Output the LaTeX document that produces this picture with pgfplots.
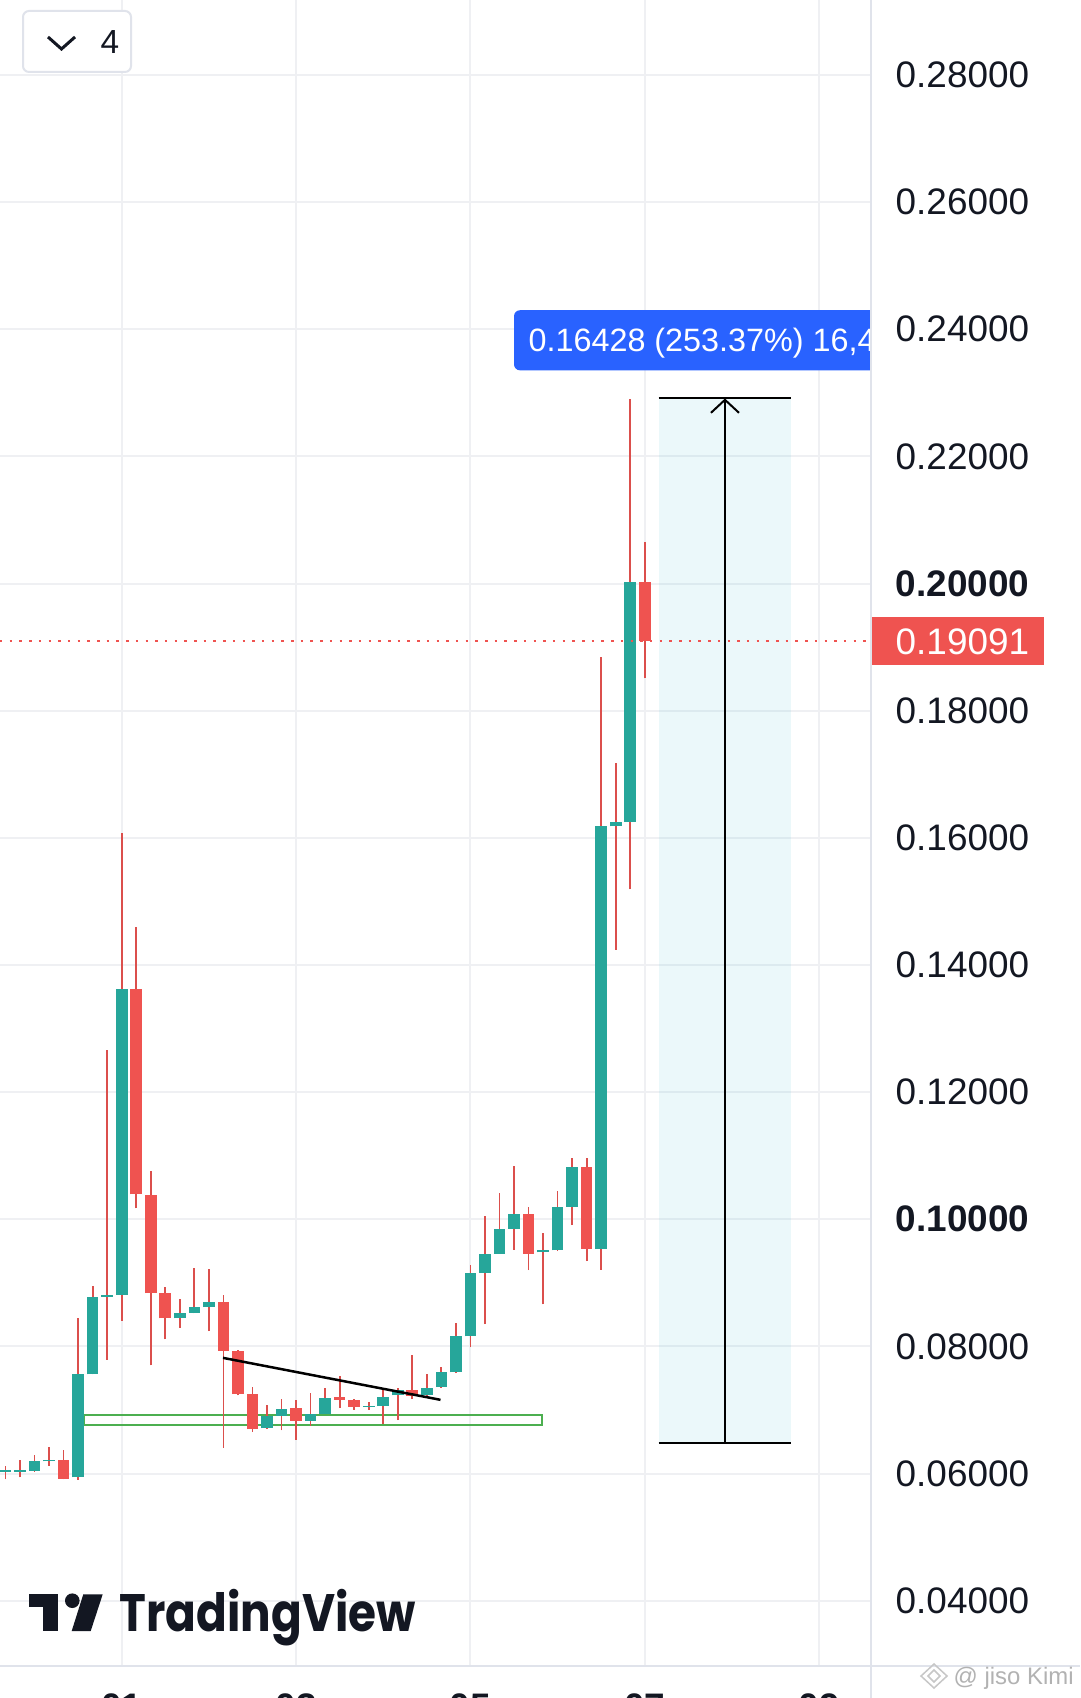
\documentclass[border=0pt]{standalone}
\usepackage{pgfplots}
\pgfplotsset{compat=1.18}
\usepackage{pgfplotstable}
\usepackage{fontspec}
\setmainfont{Liberation Sans}
\newfontfamily\popp{Poppins}
\usetikzlibrary{arrows.meta}
\definecolor{tvgreen}{HTML}{26A69A}
\definecolor{tvred}{HTML}{EF5350}
\definecolor{tvwick}{HTML}{DB4F4C}
\definecolor{tvgrid}{HTML}{EFF0F3}
\definecolor{tvline}{HTML}{E0E3EB}
\definecolor{tvblue}{HTML}{2962FF}
\definecolor{tvtext}{HTML}{131722}
\definecolor{boxgreen}{HTML}{4CAF50}
\definecolor{measure}{RGB}{30,180,205}

\pgfplotstableread{
i o h l c
-8 0.0603 0.0612 0.0591 0.0605
-7 0.0603 0.0621 0.0594 0.0605
-6 0.0604 0.0629 0.0603 0.0620
-5 0.0619 0.0642 0.0612 0.0622
-3 0.0594 0.0845 0.0590 0.0757
-2 0.0756 0.0895 0.0756 0.0878
-1 0.0878 0.1267 0.0779 0.0881
0 0.0881 0.1608 0.0840 0.1362
4 0.0844 0.0874 0.0829 0.0853
5 0.0853 0.0924 0.0852 0.0862
6 0.0862 0.0922 0.0824 0.0870
10 0.0671 0.0708 0.0670 0.0691
11 0.0691 0.0718 0.0668 0.0702
13 0.0683 0.0727 0.0675 0.0694
14 0.0694 0.0735 0.0693 0.0719
17 0.0705 0.0712 0.0700 0.0707
18 0.0706 0.0732 0.0678 0.0720
19 0.0723 0.0735 0.0684 0.0732
21 0.0723 0.0757 0.0719 0.0735
22 0.0736 0.0768 0.0735 0.0759
23 0.0759 0.0837 0.0758 0.0816
24 0.0816 0.0928 0.0799 0.0916
25 0.0916 0.1005 0.0835 0.0946
26 0.0946 0.1041 0.0946 0.0985
27 0.0985 0.1084 0.0952 0.1008
29 0.0948 0.0979 0.0866 0.0951
30 0.0951 0.1045 0.0950 0.1020
31 0.1020 0.1096 0.0991 0.1082
33 0.0953 0.1884 0.0921 0.1618
34 0.1618 0.1718 0.1424 0.1625
35 0.1625 0.2291 0.1519 0.2003
}\up

\pgfplotstableread{
i o h l c
-4 0.0621 0.0637 0.0591 0.0592
1 0.1362 0.1460 0.1017 0.1039
2 0.1038 0.1076 0.0770 0.0884
3 0.0884 0.0894 0.0811 0.0844
7 0.0870 0.0881 0.0641 0.0793
8 0.0793 0.0795 0.0723 0.0725
9 0.0725 0.0736 0.0666 0.0670
12 0.0703 0.0716 0.0653 0.0683
15 0.0720 0.0753 0.0703 0.0716
16 0.0715 0.0718 0.0700 0.0705
20 0.0731 0.0787 0.0717 0.0722
28 0.1008 0.1019 0.0920 0.0946
32 0.1082 0.1096 0.0934 0.0953
36 0.2003 0.2066 0.1851 0.19091
}\down

\pgfplotsset{candle/.style 2 args={draw=none, no markers, forget plot,
  error bars/.cd, y dir=plus, y explicit, error mark=none,
  error bar style={draw=#1, solid, line width=#2}}}

\begin{document}
\begin{tikzpicture}
\fill[white] (0,0) rectangle (108mm,169.8mm);
\begin{axis}[
  at={(0,3.2mm)}, anchor=south west,
  scale only axis, width=87.1mm, height=166.6mm,
  xmin=-8.376, xmax=51.57, ymin=0.02973, ymax=0.29180,
  axis line style={draw=none},
  tick style={draw=none},
  grid=major, major grid style={tvgrid, line width=0.2mm},
  xtick={0,12,24,36,48}, xticklabels={01,03,05,07,09},
  xticklabel style={font=\fontsize{10.5}{12}\selectfont\bfseries, anchor=north, inner sep=0pt, yshift=-2.7mm, text=tvtext},
  ytick={0.04,0.06,0.08,0.10,0.12,0.14,0.16,0.18,0.20,0.22,0.24,0.26,0.28},
  yticklabel pos=right,
  yticklabels={0.04000,0.06000,0.08000,\textbf{0.10000},0.12000,0.14000,0.16000,0.18000,\textbf{0.20000},0.22000,0.24000,0.26000,0.28000},
  yticklabel style={font=\fontsize{10.5}{12}\selectfont, anchor=west, inner xsep=2.4mm, inner ysep=0pt, text=tvtext},
  extra y ticks={0.19091}, extra y tick labels={0.19091\hspace*{-0.9mm}},
  extra y tick style={grid=none, yticklabel style={fill=tvred, text=white, minimum height=4.8mm, text depth=0pt}},
  /pgf/number format/assume math mode=true,
]
% measuring tool area
\fill[measure, fill opacity=0.085] (axis cs:36.96,0.06484) rectangle (axis cs:46.04,0.22912);
% support zone
\draw[boxgreen, line width=0.2mm] (axis cs:-2.59,0.0677) rectangle (axis cs:28.9,0.0692);
% wicks
\addplot[candle={tvwick}{0.18mm}]
  table[x=i, y=l, y error plus expr=\thisrow{h}-\thisrow{l}] {\up};
\addplot[candle={tvwick}{0.18mm}]
  table[x=i, y=l, y error plus expr=\thisrow{h}-\thisrow{l}] {\down};
% bodies
\addplot[candle={tvgreen}{1.16mm}]
  table[x=i, y=o, y error plus expr=\thisrow{c}-\thisrow{o}] {\up};
\addplot[candle={tvred}{1.16mm}]
  table[x=i, y=c, y error plus expr=\thisrow{o}-\thisrow{c}] {\down};
% trend line
\draw[black, line width=0.25mm] (axis cs:6.97,0.0782) -- (axis cs:21.94,0.0716);
% last price line
\draw[tvred, line width=0.2mm, dash pattern=on 0.25mm off 0.72mm] (axis cs:-8.376,0.19091) -- (axis cs:51.57,0.19091);
% measuring tool
\draw[black, line width=0.2mm] (axis cs:36.96,0.22912) -- (axis cs:46.04,0.22912);
\draw[black, line width=0.2mm] (axis cs:36.96,0.06484) -- (axis cs:46.04,0.06484);
\draw[black, line width=0.2mm, -{Straight Barb[length=1.3mm,width=2.8mm]}] (axis cs:41.52,0.06484) -- (axis cs:41.52,0.22912);
\fill[tvblue, rounded corners=0.6mm] (axis cs:27.0,0.23354) rectangle (axis cs:53,0.2430);
\node[anchor=base west, inner sep=0, text=white, font=\fontsize{9.2}{11}\selectfont] at (axis cs:27.96,0.23654) {0.16428 (253.37\%) 16,428};
\end{axis}
\begin{scope}[x=0.1mm, y=-0.1mm, yshift=169.8mm]
 \draw[tvline, line width=0.2mm] (871,0) -- (871,1698);
 \draw[tvline, line width=0.2mm] (0,1666) -- (1080,1666);
 % interval button
 \draw[tvline, line width=0.2mm, fill=white, rounded corners=0.6mm] (23,11) rectangle (131,72);
 \draw[tvtext, line width=0.3mm] (48,37) -- (61.5,49) -- (75,37);
 \node[anchor=base west, inner sep=0, text=tvtext, font=\fontsize{9.5}{11}\selectfont] at (100,54) {4};
 % logo
 \fill[tvtext] (29.3,1594.3) rectangle (58.3,1606.7);
 \fill[tvtext] (43.3,1594.3) rectangle (58.3,1631);
 \fill[tvtext] (72.3,1600.7) circle[radius=0.73mm];
 \fill[tvtext] (83.3,1594.3) -- (102.7,1594.3) -- (90.7,1631) -- (71.7,1631) -- cycle;
 \node[anchor=base west, inner sep=0, text=tvtext, font=\popp\bfseries\fontsize{15}{18}\selectfont] at (119,1631) {\scalebox{0.86}[1]{TradingView}};
 % watermark
 \draw[black!22, line width=0.15mm] (934,1664) -- (947,1676) -- (934,1688) -- (921,1676) -- cycle;
 \draw[black!22, line width=0.15mm] (934,1670) -- (940,1676) -- (934,1682) -- (928,1676) -- cycle;
 \node[anchor=base west, inner sep=0, text=black!30, font=\fontsize{6.8}{8}\selectfont] at (953,1684) {@ jiso Kimi};
\end{scope}
\pgfresetboundingbox
\useasboundingbox (0,0) rectangle (108mm,169.8mm);
\end{tikzpicture}
\end{document}
